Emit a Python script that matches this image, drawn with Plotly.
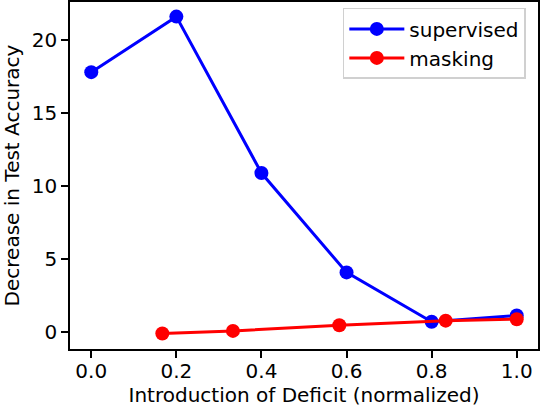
import plotly.graph_objects as go

sup_x = [0.0, 0.2, 0.4, 0.6, 0.8, 1.0]
sup_y = [17.8, 21.6, 10.9, 4.1, 0.72, 1.15]
mask_x = [0.167, 0.333, 0.583, 0.833, 1.0]
mask_y = [-0.08, 0.1, 0.48, 0.8, 0.9]

x_ticks = [0.0, 0.2, 0.4, 0.6, 0.8, 1.0]
x_tick_text = ["0.0", "0.2", "0.4", "0.6", "0.8", "1.0"]
y_ticks = [0, 5, 10, 15, 20]

FONT = "DejaVu Sans"
FS = 20

fig = go.Figure()
fig.add_trace(go.Scatter(x=sup_x, y=sup_y, mode="lines+markers", name="supervised",
                         line=dict(color="#0000ff", width=3),
                         marker=dict(color="#0000ff", size=14)))
fig.add_trace(go.Scatter(x=mask_x, y=mask_y, mode="lines+markers", name="masking",
                         line=dict(color="#ff0000", width=3),
                         marker=dict(color="#ff0000", size=14)))

axis_common = dict(showgrid=False, zeroline=False, showline=True, linecolor="black",
                   linewidth=1.6, mirror=True, ticks="outside", ticklen=7, tickwidth=1.6,
                   tickcolor="black", automargin=False,
                   tickfont=dict(family=FONT, size=FS, color="black"))

fig.update_layout(
    width=541, height=412,
    margin=dict(l=70, r=3, t=2, b=63),
    paper_bgcolor="white", plot_bgcolor="white",
    font=dict(family=FONT, size=FS, color="black"),
    showlegend=True,
    legend=dict(x=0.974, y=0.983, xanchor="right", yanchor="top",
                bordercolor="#d0d0d0", borderwidth=1.5, bgcolor="rgba(255,255,255,0.8)",
                font=dict(family=FONT, size=FS), itemwidth=55),
)
fig.update_xaxes(range=[-0.05, 1.05], tickvals=x_ticks, ticktext=x_tick_text,
                 ticklabelstandoff=-4,
                 title=dict(text="Introduction of Deficit (normalized)", standoff=4,
                            font=dict(family=FONT, size=FS)), **axis_common)
fig.update_yaxes(range=[-1.14, 22.6], tickvals=y_ticks,
                 title=dict(text="Decrease in Test Accuracy",
                            font=dict(family=FONT, size=FS)), **axis_common)

fig.write_html("out.html", config={"displayModeBar": False},
               post_script="document.body.style.margin='0px';")
